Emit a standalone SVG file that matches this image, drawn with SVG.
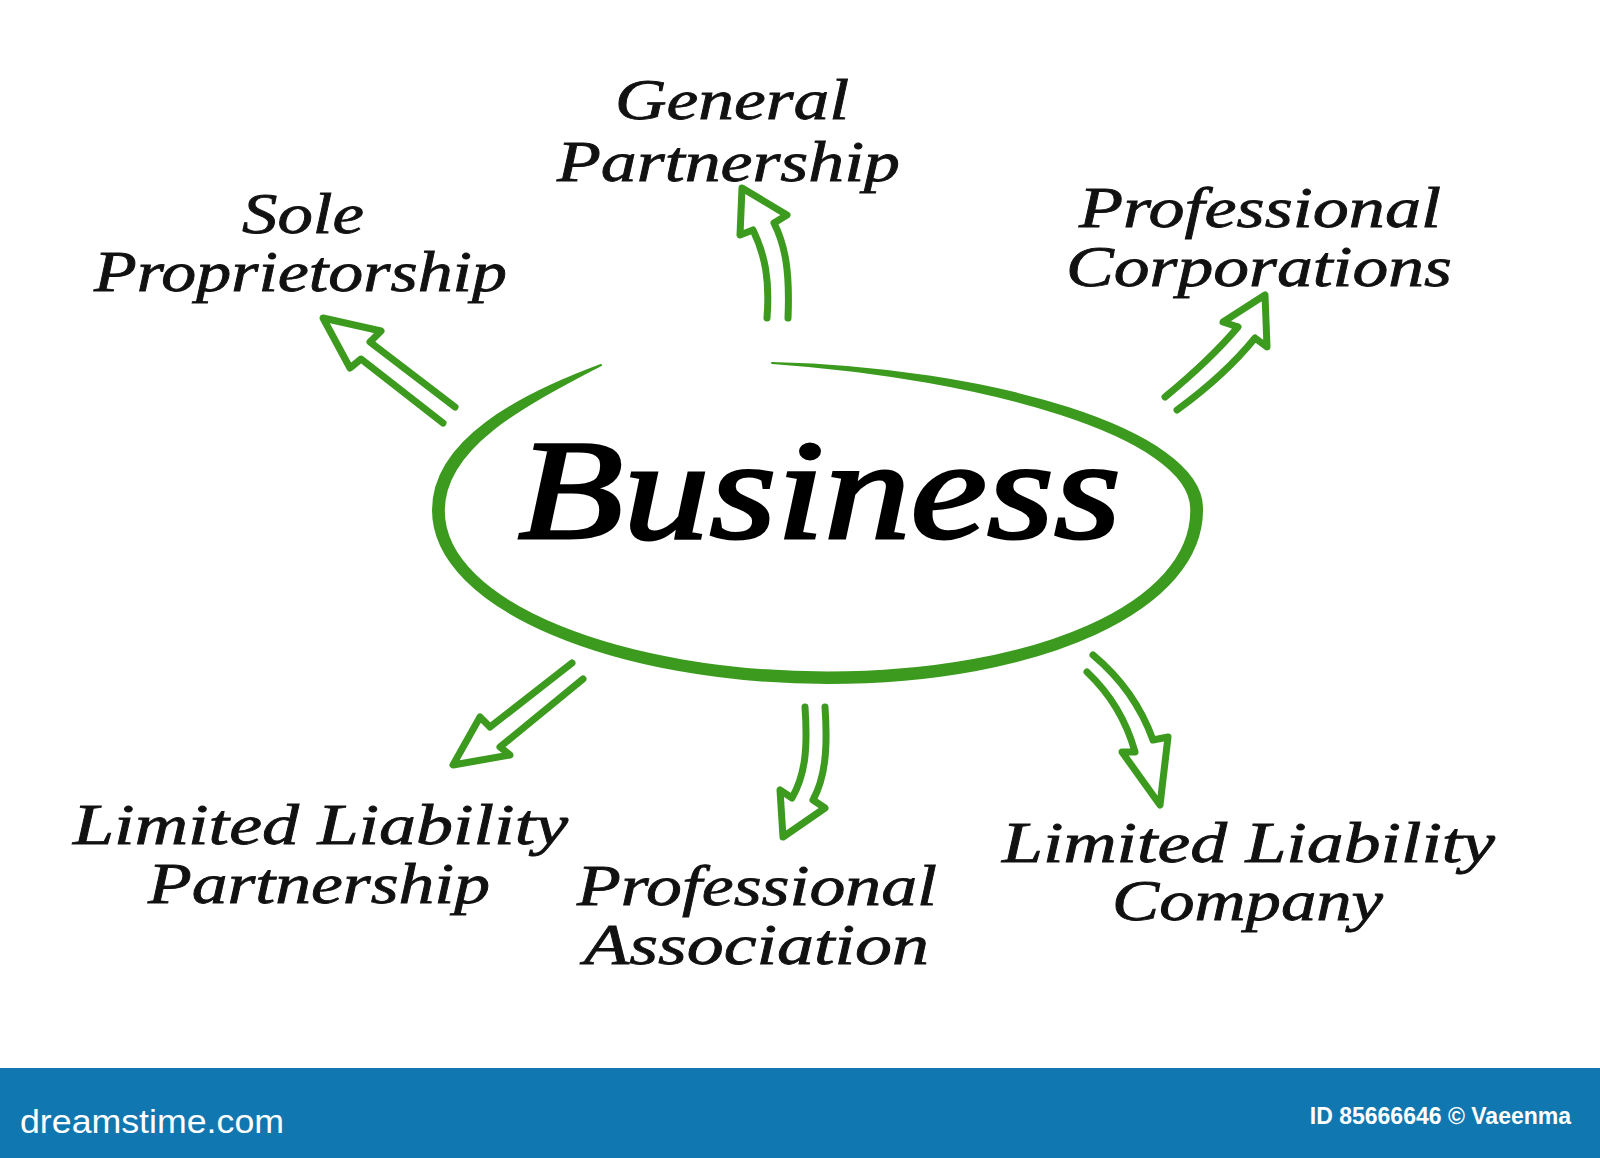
<svg xmlns="http://www.w3.org/2000/svg" width="1600" height="1158" viewBox="0 0 1600 1158">
<style>
.lbl{font-family:"Liberation Serif","DejaVu Serif",serif;font-style:italic;font-size:56px;fill:#111;stroke:#111;stroke-width:0.8}
.big{font-family:"Liberation Serif","DejaVu Serif",serif;font-style:italic;font-size:142px;fill:#000;stroke:#000;stroke-width:3}
.arr{fill:none;stroke:#3c9b1f;stroke-width:7;stroke-linecap:round;stroke-linejoin:round}
.ring{fill:#3c9b1f;stroke:#3c9b1f;stroke-width:2;stroke-linejoin:round}
</style>
<rect width="1600" height="1158" fill="#fff"/>
<g id="center">
<path class="ring" d="M 772 363 C 990 368 1200 430 1202 507 C 1205 610 1040 683 828 683 C 620 683 433 610 433 510 C 433 440 520 395 601 365 C 528.3 403.3 443.8 445.3 443.8 510.8 C 443.8 604.3 625.5 672.5 827.7 672.5 C 1033.8 672.5 1194.2 604.3 1191.2 508 C 1189.3 436 985.2 378 772 363 Z"/>
<text class="big" x="518" y="538" textLength="603" lengthAdjust="spacingAndGlyphs">Business</text>
</g>
<g id="connectors">
<path class="arr" d="M 455 407 L 370 342 L 381 331 L 323 318 L 350 368 L 361 359 L 443 423"/>
<path class="arr" d="M 753 230 L 740 235 L 742 188 L 787 215 L 774 223 M 767 318 C 770 280 765 255 753 230 M 788 318 C 790 270 785 245 774 223"/>
<path class="arr" d="M 1238 327 L 1223 322 L 1265 295 L 1267 347 L 1255 338 M 1165 397 Q 1210 360 1238 327 M 1177 410 Q 1225 375 1255 338"/>
<path class="arr" d="M 490 727 L 480 717 L 453 765 L 510 755 L 500 747 M 572 663 L 490 727 M 583 679 L 500 747"/>
<path class="arr" d="M 792 798 L 780 790 L 783 837 L 825 808 L 813 800 M 805 707 C 808 750 805 775 792 798 M 825 707 C 828 750 825 778 813 800"/>
<path class="arr" d="M 1135 752 L 1122 752 L 1160 805 L 1168 737 L 1153 740 M 1093 655 Q 1135 690 1153 740 M 1087 672 Q 1122 705 1135 752"/>
</g>
<g id="n-general">
<text class="lbl" x="615" y="119" textLength="234" lengthAdjust="spacingAndGlyphs">General</text>
<text class="lbl" x="557" y="181" textLength="343" lengthAdjust="spacingAndGlyphs">Partnership</text>
</g>
<g id="n-sole">
<text class="lbl" x="242" y="233" textLength="122" lengthAdjust="spacingAndGlyphs">Sole</text>
<text class="lbl" x="94" y="291" textLength="413" lengthAdjust="spacingAndGlyphs">Proprietorship</text>
</g>
<g id="n-profcorp">
<text class="lbl" x="1079" y="227" textLength="362" lengthAdjust="spacingAndGlyphs">Professional</text>
<text class="lbl" x="1066" y="286" textLength="386" lengthAdjust="spacingAndGlyphs">Corporations</text>
</g>
<g id="n-llp">
<text class="lbl" x="73" y="844" textLength="495" lengthAdjust="spacingAndGlyphs">Limited Liability</text>
<text class="lbl" x="148" y="903" textLength="342" lengthAdjust="spacingAndGlyphs">Partnership</text>
</g>
<g id="n-profassoc">
<text class="lbl" x="577" y="905" textLength="360" lengthAdjust="spacingAndGlyphs">Professional</text>
<text class="lbl" x="584" y="964" textLength="345" lengthAdjust="spacingAndGlyphs">Association</text>
</g>
<g id="n-llc">
<text class="lbl" x="1002" y="862" textLength="493" lengthAdjust="spacingAndGlyphs">Limited Liability</text>
<text class="lbl" x="1112" y="920" textLength="271" lengthAdjust="spacingAndGlyphs">Company</text>
</g>
<g id="footer">
<rect x="0" y="1068" width="1600" height="90" fill="#1077b0"/>
<text x="20" y="1133" font-family="Liberation Sans, sans-serif" font-size="34" fill="#fff" textLength="264" lengthAdjust="spacingAndGlyphs">dreamstime.com</text>
<text x="1571" y="1124" text-anchor="end" font-family="Liberation Sans, sans-serif" font-weight="bold" font-size="23" fill="#fff">ID 85666646 © Vaeenma</text>
</g>
</svg>
